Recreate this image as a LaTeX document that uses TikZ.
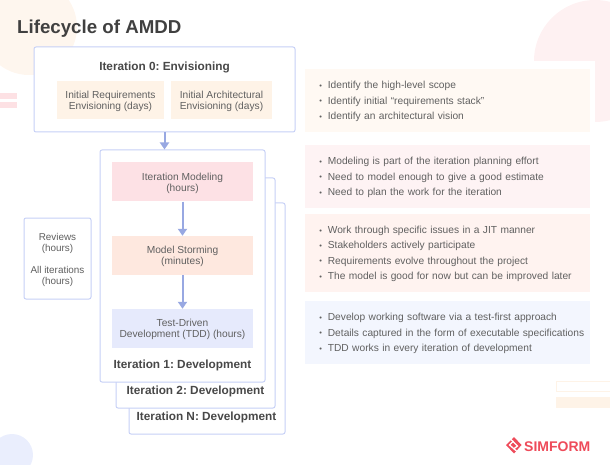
\documentclass[tikz,border=0pt]{standalone}
\usepackage{fontspec}
\setmainfont{Liberation Sans}
\usetikzlibrary{arrows.meta}
\definecolor{edgeblue}{HTML}{C6D0F6}
\definecolor{arrowblue}{HTML}{98A8E2}
\definecolor{titlegrey}{HTML}{404040}
\definecolor{headgrey}{HTML}{484848}
\definecolor{bodygrey}{HTML}{606060}
\definecolor{decopeach}{HTML}{FEF6EE}
\definecolor{decopink}{HTML}{FEF1F2}
\definecolor{decobar}{HTML}{FDE1E4}
\definecolor{decoblue}{HTML}{EAEEFD}
\definecolor{boxpeach}{HTML}{FEF3E7}
\definecolor{boxpink}{HTML}{FDE1E5}
\definecolor{boxsalmon}{HTML}{FEE8DF}
\definecolor{boxblue}{HTML}{E6EAFC}
\definecolor{panelpeach}{HTML}{FFF9F3}
\definecolor{panelpink}{HTML}{FEF3F4}
\definecolor{panelsalmon}{HTML}{FFF3F0}
\definecolor{panelblue}{HTML}{F3F6FE}
\definecolor{logored}{HTML}{EE4B5A}
\newcommand{\bl}{\hspace*{11pt}{\fontsize{7.5}{7.5}\selectfont\raisebox{0.4pt}{•}}\hspace{6pt}}
\tikzset{
  x=1pt,y=-1pt,
  framebox/.style={draw=edgeblue,line width=1pt,rounded corners=2pt,fill=white,inner sep=0pt},
  innerbox/.style={inner sep=0pt},
  boxtext/.style={inner sep=0pt,align=center,text=bodygrey,yshift=-1.2pt,font=\fontsize{10.2}{11}\selectfont\frenchspacing},
  sidetext/.style={inner sep=0pt,align=center,text=bodygrey,yshift=-1.6pt,font=\fontsize{9.9}{11}\selectfont\frenchspacing},
  heading/.style={inner sep=0pt,anchor=base,text=headgrey,font=\fontsize{11.8}{13}\selectfont\bfseries\frenchspacing},
  panel/.style={inner sep=0pt,minimum width=285.5pt},
  paneltext/.style={inner sep=0pt,text width=278pt,align=left,yshift=-1pt,
    text=bodygrey,font=\fontsize{10.2}{15.3}\selectfont\frenchspacing},
  flow/.style={draw=arrowblue,line width=2pt,-{Triangle[width=9pt,length=7pt,fill=arrowblue]}}
}
\begin{document}
\begin{tikzpicture}
\useasboundingbox (0,0) rectangle (610,465);
% decorations
\fill[decopeach] (29,27) circle (48);
\fill[decopink] (595,61) circle (61);
\fill[white] (520,61) rectangle (595,140);
\fill[decobar] (0,93) rectangle (17,99);
\fill[decobar] (0,102) rectangle (17,108);
\fill[decoblue] (12,455) circle (21);
\draw[boxpeach,line width=1pt] (556,381) rectangle (612,391);
\fill[boxpeach] (556,397) rectangle (610,408);
% title
\node[inner sep=0pt,anchor=base west,text=titlegrey,font=\fontsize{18.7}{22}\selectfont\bfseries\frenchspacing] (title) at (17,34) {Lifecycle of AMDD};
% iteration 0
\node[framebox,minimum width=261pt,minimum height=85pt] (iterzero) at (164.5,89.5) {};
\node[heading] (iterzerolabel) at (164.5,70.5) {Iteration 0: Envisioning};
\node[innerbox,fill=boxpeach,minimum width=107pt,minimum height=38pt] (req) at (110.5,100) {};
\node[innerbox,fill=boxpeach,minimum width=101pt,minimum height=38pt] (arch) at (221.5,100) {};
\node[boxtext] (reqtext) at (req) {Initial Requirements\\Envisioning (days)};
\node[boxtext] (archtext) at (arch) {Initial Architectural\\Envisioning (days)};
% stacked iterations
\node[framebox,minimum width=156pt,minimum height=231pt] (itern) at (207,318.5) {};
\node[framebox,minimum width=159pt,minimum height=230pt] (itertwo) at (195.5,293) {};
\node[framebox,minimum width=165pt,minimum height=232pt] (iterone) at (182.5,266) {};
\node[heading] (iternlabel) at (206.5,420) {Iteration N: Development};
\node[heading] (itertwolabel) at (195.5,394.5) {Iteration 2: Development};
\node[heading] (iteronelabel) at (182.5,368) {Iteration 1: Development};
\node[innerbox,fill=boxpink,minimum width=141pt,minimum height=39pt] (modeling) at (182.5,182) {};
\node[innerbox,fill=boxsalmon,minimum width=141pt,minimum height=39pt] (storming) at (182.5,255.5) {};
\node[innerbox,fill=boxblue,minimum width=141pt,minimum height=39pt] (tdd) at (182.5,328.5) {};
\node[boxtext] (modelingtext) at (modeling) {Iteration Modeling\\(hours)};
\node[boxtext] (stormingtext) at (storming) {Model Storming\\(minutes)};
\node[boxtext] (tddtext) at (tdd) {Test-Driven\\Development (TDD) (hours)};
% reviews
\node[framebox,minimum width=67pt,minimum height=81pt] (reviews) at (57.5,258.5) {};
\node[sidetext] (reviewstext) at (reviews) {Reviews\\(hours)\\[11pt]All iterations\\(hours)};
% connectors
\draw[flow] (iterzero.south) -- (iterzero.south |- iterone.north);
\draw[flow] (modeling) -- (storming);
\draw[flow] (storming) -- (tdd);
% panels
\node[panel,fill=panelpeach,minimum height=63pt] (panelone) at (447.25,100.5) {};
\node[panel,fill=panelpink,minimum height=63pt] (paneltwo) at (447.25,176.5) {};
\node[panel,fill=panelsalmon,minimum height=78pt] (panelthree) at (447.25,253) {};
\node[panel,fill=panelblue,minimum height=63pt] (panelfour) at (447.25,332.5) {};
\node[paneltext] (panelonetext) at (panelone) {\bl Identify the high-level scope\\\bl Identify initial “requirements stack”\\\bl Identify an architectural vision};
\node[paneltext] (paneltwotext) at (paneltwo) {\bl Modeling is part of the iteration planning effort\\\bl Need to model enough to give a good estimate\\\bl Need to plan the work for the iteration};
\node[paneltext] (panelthreetext) at (panelthree) {\bl Work through specific issues in a JIT manner\\\bl Stakeholders actively participate\\\bl Requirements evolve throughout the project\\\bl The model is good for now but can be improved later};
\node[paneltext] (panelfourtext) at (panelfour) {\bl Develop working software via a test-first approach\\\bl Details captured in the form of executable specifications\\\bl TDD works in every iteration of development};
% logo
\fill[logored] (506,445) -- (514,437) -- (521.5,445) -- (514,453.5) -- cycle;
\draw[white,line width=1.3pt] (510.5,439) -- (517.5,446) -- (513.5,449);
\draw[white,line width=1.3pt] (516.5,451) -- (509.5,445) -- (513.5,441);
\node[inner sep=0pt,anchor=base west,text=logored,font=\fontsize{14}{14}\selectfont\bfseries] (simform) at (524,451) {SIMFORM};
\end{tikzpicture}
\end{document}
